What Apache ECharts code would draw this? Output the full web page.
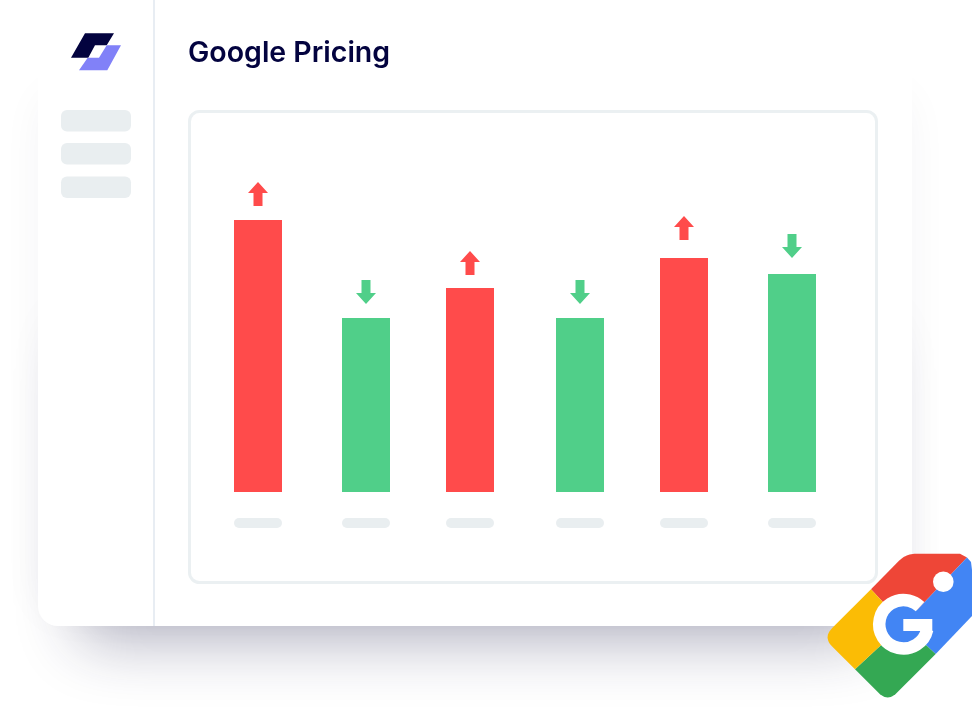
<!DOCTYPE html>
<html>
<head>
<meta charset="utf-8">
<style>html,body{margin:0;padding:0;background:#fff}#c{width:972px;height:712px}</style>
<script src="https://cdn.jsdelivr.net/npm/echarts@6/dist/echarts.min.js"></script>
</head>
<body>
<div id="c"></div>
<script>
var chartTitle = 'Google Pricing';
var periodPositions = [54, 162, 266, 376, 480, 588];
var priceValues = [272, 174, 204, 174, 234, 218];
var arrowLevels = [298, 200, 229, 200, 264, 246];
var priceTrend = ['up', 'down', 'up', 'down', 'up', 'down'];
var labelLevel = -31;

var RED = '#FF4B4B', GREEN = '#50CF89', PILL = '#E9EEF0';
var UP = 'path://M10 0L20 11L14.5 11L14.5 24L5.5 24L5.5 11L0 11Z';
var DOWN = 'path://M5.5 0L14.5 0L14.5 13L20 13L10 24L0 13L5.5 13Z';
var CAPSULE = 'path://M5 0H43A5 5 0 0 1 43 10H5A5 5 0 0 1 5 0Z';

function rounded(pts) {
  var out = [];
  pts.forEach(function (p, i) {
    if (!p[2]) { out.push([p[0], p[1]]); return; }
    var a = pts[(i + pts.length - 1) % pts.length], b = pts[(i + 1) % pts.length], t = p[2];
    var la = Math.hypot(a[0] - p[0], a[1] - p[1]), lb = Math.hypot(b[0] - p[0], b[1] - p[1]);
    var s = [p[0] + (a[0] - p[0]) * t / la, p[1] + (a[1] - p[1]) * t / la];
    var e = [p[0] + (b[0] - p[0]) * t / lb, p[1] + (b[1] - p[1]) * t / lb];
    for (var k = 0; k <= 12; k++) {
      var u = k / 12, v = 1 - u;
      out.push([v * v * s[0] + 2 * u * v * p[0] + u * u * e[0], v * v * s[1] + 2 * u * v * p[1] + u * u * e[1]]);
    }
  });
  return out;
}
function poly(points, fill) {
  return { type: 'polygon', shape: { points: points }, style: { fill: fill }, silent: true };
}
function box(x, y, w, h, r, fill) {
  return { type: 'rect', shape: { x: x, y: y, width: w, height: h, r: r }, style: { fill: fill }, silent: true };
}

var cx = 903.5, cy = 624.3;
var decor = [
  { type: 'rect', shape: { x: 44, y: 96, width: 862, height: 514, r: 20 }, silent: true,
    style: { fill: '#fff', shadowBlur: 46, shadowColor: 'rgba(30,30,75,0.06)' } },
  { type: 'rect', shape: { x: 78, y: 300, width: 794, height: 310, r: 20 }, silent: true,
    style: { fill: '#fff', shadowBlur: 62, shadowOffsetY: 32, shadowColor: 'rgba(30,30,75,0.33)' } },
  box(38, -40, 874, 666, 20, '#FFFFFF'),
  box(153, 0, 2, 626, 0, '#E8EDF3'),
  poly([[85, 33.3], [114, 33.3], [106.7, 45.3], [95, 45.3], [88.3, 57.7], [71, 57.7]], '#03033F'),
  poly([[106.7, 45.3], [121, 45.3], [107.3, 70.3], [79, 70.3], [87.7, 57.7], [99, 57.7]], '#8181F8'),
  box(61, 110, 70, 21.5, 6, PILL),
  box(61, 143, 70, 21.5, 6, PILL),
  box(61, 176.5, 70, 21.5, 6, PILL),
  { type: 'rect', shape: { x: 189.5, y: 111.5, width: 687, height: 471, r: 10 }, silent: true,
    style: { fill: '#fff', stroke: '#EBF0F2', lineWidth: 3 } },
  { type: 'text', left: 188, top: 39, silent: true,
    style: { text: chartTitle, fontFamily: 'Inter', fontWeight: 600, fontSize: 28.5, fill: '#03033F' } },
  poly(rounded([[871, 589.3], [906, 553.7, 10], [960, 553.7], [967, 557.5], [cx, cy]]), '#EE4637'),
  poly(rounded([[967, 557.5], [971, 562], [972, 570], [972, 616], [935.7, 654], [cx, cy]]), '#4285F4'),
  poly(rounded([[935.7, 654], [887.7, 702, 13], [855, 669.3], [cx, cy]]), '#34A853'),
  poly(rounded([[855, 669.3], [823, 637.3, 13], [871, 589.3], [cx, cy]]), '#FBBC05'),
  { type: 'circle', shape: { cx: cx, cy: cy, r: 20 }, style: { fill: '#4285F4' }, silent: true },
  { type: 'arc', shape: { cx: cx, cy: cy, r: 24.25, startAngle: 0.22, endAngle: -0.82, clockwise: true }, silent: true,
    style: { fill: 'none', stroke: '#fff', lineWidth: 12.5 } },
  box(903.3, 619, 29, 12, 0, '#fff'),
  { type: 'circle', shape: { cx: 943.3, cy: 581.7, r: 10.3 }, style: { fill: '#fff' }, silent: true }
];

var barData = priceValues.map(function (v, i) {
  return { value: [periodPositions[i], v], itemStyle: { color: priceTrend[i] === 'up' ? RED : GREEN } };
});
function arrows(dir) {
  return arrowLevels.map(function (v, i) { return [periodPositions[i], v, dir, priceTrend[i]]; })
    .filter(function (d) { return d[3] === dir; });
}

var option = {
  animation: false,
  backgroundColor: '#fff',
  graphic: { elements: decor },
  grid: { left: 204, top: 172, width: 642, height: 380, containLabel: false },
  xAxis: { type: 'value', min: 0, max: 642, show: false, splitLine: { show: false } },
  yAxis: { type: 'value', min: -60, max: 320, show: false, splitLine: { show: false } },
  series: [
    { type: 'bar', barWidth: 48, z: 3, silent: true, data: barData },
    { type: 'scatter', z: 3, silent: true, symbol: UP, symbolSize: [20, 24],
      itemStyle: { color: RED, opacity: 1 }, data: arrows('up') },
    { type: 'scatter', z: 3, silent: true, symbol: DOWN, symbolSize: [20, 24],
      itemStyle: { color: GREEN, opacity: 1 }, data: arrows('down') },
    { type: 'scatter', z: 3, silent: true, symbol: CAPSULE, symbolSize: [48, 10],
      itemStyle: { color: PILL, opacity: 1 },
      data: periodPositions.map(function (p) { return [p, labelLevel]; }) }
  ]
};
var chart = echarts.init(document.getElementById('c'), null, { renderer: 'canvas' });
chart.setOption(option);
</script>
</body>
</html>
